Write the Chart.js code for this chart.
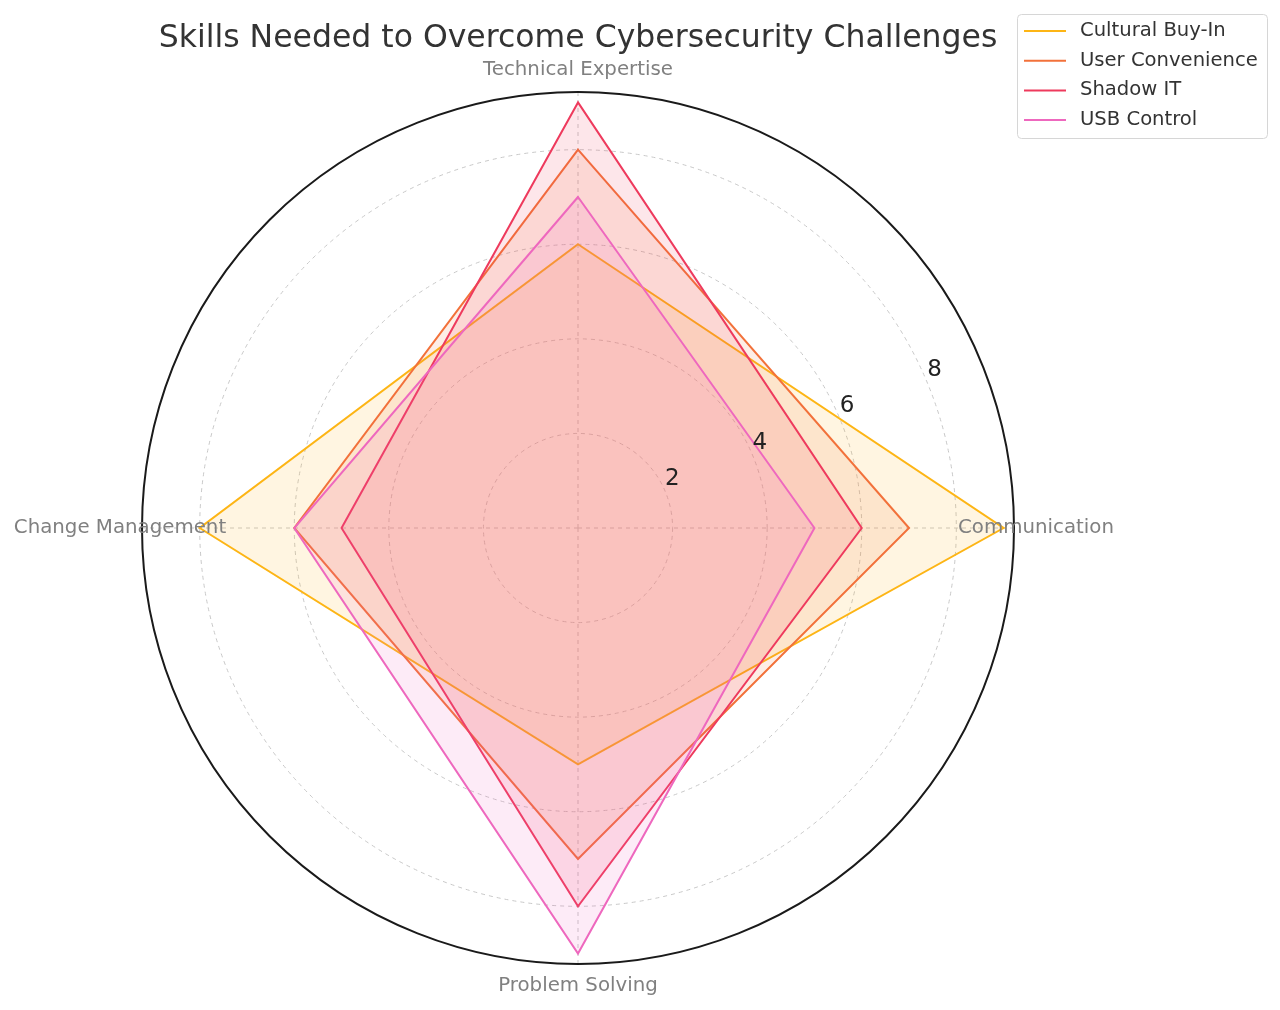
<!DOCTYPE html>
<html>
<head>
<meta charset="utf-8">
<script src="https://cdn.jsdelivr.net/npm/chart.js@4/dist/chart.umd.min.js"></script>
<style>
  html, body { margin: 0; padding: 0; background: #ffffff; }
  #wrap { width: 1280px; height: 1010px; position: relative; }
  canvas { display: block; }
</style>
</head>
<body>
<div id="wrap"><canvas id="c" width="1280" height="1010"></canvas></div>
<script>
// ---- Data (Chart.js radar goes clockwise from the top) ----
const titleText = "Skills Needed to Overcome Cybersecurity Challenges";
const categories = ["Technical Expertise", "Communication", "Problem Solving", "Change Management"];
const seriesNames = ["Cultural Buy-In", "User Convenience", "Shadow IT", "USB Control"];
const culturalBuyIn   = [6, 9, 5, 8];
const userConvenience = [8, 7, 7, 6];
const shadowIT        = [9, 6, 8, 5];
const usbControl      = [7, 5, 9, 6];
const tickValues = [2, 4, 6, 8];
const radialMax = 9.22;

const colors = ["#FDB515", "#F2713A", "#EE3A5D", "#EE68BE"];
const fillAlpha = 0.13;

function hexA(hex, a) {
  const n = parseInt(hex.slice(1), 16);
  return `rgba(${(n >> 16) & 255},${(n >> 8) & 255},${n & 255},${a})`;
}

const seriesValues = [culturalBuyIn, userConvenience, shadowIT, usbControl];
const datasets = seriesValues.map((vals, i) => ({
  label: seriesNames[i],
  data: vals,
  borderColor: colors[i],
  backgroundColor: hexA(colors[i], fillAlpha),
  borderWidth: 2,
  pointRadius: 0,
  pointHoverRadius: 0,
  fill: true,
  tension: 0,
  order: seriesValues.length - 1 - i
}));

const FONT = "'DejaVu Sans', 'Liberation Sans', sans-serif";

const decorPlugin = {
  id: 'decor',
  beforeDatasetsDraw(chart) {
    const s = chart.scales.r;
    const ctx = chart.ctx;
    // outer frame circle
    ctx.save();
    ctx.beginPath();
    ctx.arc(s.xCenter, s.yCenter, s.getDistanceFromCenterForValue(s.max), 0, Math.PI * 2);
    ctx.strokeStyle = '#1a1a1a';
    ctx.lineWidth = 2;
    ctx.stroke();
    ctx.restore();
  },
  afterDraw(chart) {
    const s = chart.scales.r;
    const ctx = chart.ctx;
    ctx.save();
    // radial tick labels at 22.5 degrees (from +x axis, counter-clockwise)
    ctx.font = `23px ${FONT}`;
    ctx.fillStyle = '#222222';
    ctx.textAlign = 'center';
    ctx.textBaseline = 'middle';
    const ang = 22.5 * Math.PI / 180;
    tickValues.forEach(v => {
      const d = s.getDistanceFromCenterForValue(v);
      const x = s.xCenter + d * Math.cos(ang) + 7;
      const y = s.yCenter - d * Math.sin(ang) - 13;
      ctx.fillText(String(v), x, y);
    });
    // category labels
    ctx.font = `19.8px ${FONT}`;
    ctx.fillStyle = '#808080';
    const outer = s.getDistanceFromCenterForValue(s.max);
    categories.forEach((lab, i) => {
      const p = s.getPointPosition(i, outer + 22);
      ctx.fillText(lab, p.x, p.y);
    });
    // title
    ctx.font = `31.5px ${FONT}`;
    ctx.fillStyle = '#333333';
    ctx.fillText(titleText, s.xCenter, 39);
    // legend
    const lx = 1017, ly = 14, lw = 250, lh = 124;
    ctx.beginPath();
    if (ctx.roundRect) ctx.roundRect(lx + 0.5, ly + 0.5, lw, lh, 4); else ctx.rect(lx + 0.5, ly + 0.5, lw, lh);
    ctx.fillStyle = 'rgba(255,255,255,0.85)';
    ctx.fill();
    ctx.strokeStyle = '#d6d6d6';
    ctx.lineWidth = 1;
    ctx.stroke();
    ctx.font = `19.6px ${FONT}`;
    ctx.textAlign = 'left';
    seriesNames.forEach((name, i) => {
      const y = 31 + i * 29.7;
      ctx.beginPath();
      ctx.moveTo(1024, y);
      ctx.lineTo(1066, y);
      ctx.strokeStyle = colors[i];
      ctx.lineWidth = 2;
      ctx.stroke();
      ctx.fillStyle = '#333333';
      ctx.fillText(name, 1080, y);
    });
    ctx.restore();
  }
};

new Chart(document.getElementById('c'), {
  type: 'radar',
  data: { labels: categories, datasets: datasets },
  options: {
    responsive: false,
    animation: false,
    devicePixelRatio: 1,
    layout: { padding: { left: 142, right: 266, top: 92, bottom: 46 } },
    plugins: {
      legend: { display: false },
      title: { display: false },
      tooltip: { enabled: false }
    },
    elements: { line: { tension: 0 } },
    scales: {
      r: {
        min: 0,
        max: radialMax,
        startAngle: 0,
        ticks: { display: false, stepSize: 2 },
        pointLabels: { display: false },
        grid: {
          circular: true,
          color: c => (c.tick && c.tick.value > 8.5) ? 'rgba(0,0,0,0)' : '#c8c8c8',
          lineWidth: 1
        },
        border: { dash: [4, 4] },
        angleLines: { display: true, color: '#c8c8c8', lineWidth: 1, borderDash: [4, 4] }
      }
    }
  },
  plugins: [decorPlugin]
});
</script>
</body>
</html>
